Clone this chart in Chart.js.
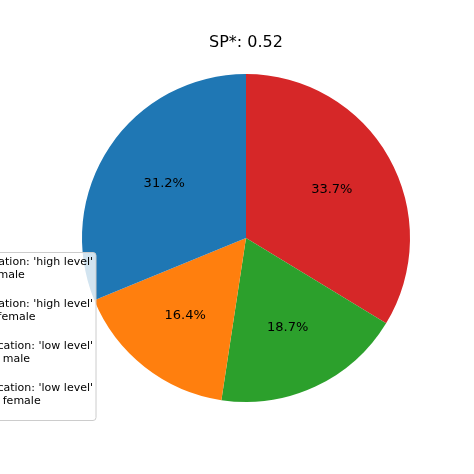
<!DOCTYPE html><html><head><style>html,body{margin:0;padding:0;background:#fff}</style>
<script src="https://cdn.jsdelivr.net/npm/chart.js@4"></script></head><body>
<div style="width:474px;height:474px"><canvas id="c" width="474" height="474"></canvas></div>
<script>
const categories=["education: 'high level'\nsex: male","education: 'high level'\nsex: female","education: 'low level'\nsex: male","education: 'low level'\nsex: female"];
const values=[31.2,16.4,18.7,33.7];
const colors=['#1f77b4','#ff7f0e','#2ca02c','#d62728'];
const titleText='SP*: 0.52';
// reverse order so clockwise drawing matches counter-clockwise reference
const order=[3,2,1,0];
const F='"DejaVu Sans", sans-serif';
const deco={id:'deco',afterDraw(ch){
 const ctx=ch.ctx;ctx.save();
 ctx.fillStyle='#000';ctx.font='16px '+F;ctx.textAlign='center';ctx.textBaseline='middle';
 ctx.fillText(titleText,246,43);
 const meta=ch.getDatasetMeta(0);
 ctx.font='13px '+F;
 meta.data.forEach((a,i)=>{const m=(a.startAngle+a.endAngle)/2;const r=a.outerRadius*0.6;
  ctx.fillText(ch.data.datasets[0].data[i].toFixed(1)+'%',a.x+Math.cos(m)*r,a.y+Math.sin(m)*r);});
 // legend
 ctx.fillStyle='rgba(255,255,255,0.8)';ctx.strokeStyle='#cccccc';ctx.lineWidth=1;
 ctx.beginPath();ctx.roundRect(-20,252.5,116,168,3);ctx.fill();ctx.stroke();
 ctx.font='11px '+F;ctx.textAlign='left';
 categories.forEach((c,i)=>{const [l1,l2]=c.split('\n');const y=262+i*42;
  const w=ctx.measureText(l1).width;const x=93-w;
  ctx.fillStyle=colors[i];ctx.fillRect(x-26,y-3,20,8);
  ctx.fillStyle='#000';ctx.fillText(l1,x,y);ctx.fillText(l2,x,y+13);});
 ctx.restore();}};
new Chart(document.getElementById('c'),{type:'pie',
 data:{labels:order.map(i=>categories[i]),datasets:[{data:order.map(i=>values[i]),backgroundColor:order.map(i=>colors[i]),borderWidth:0}]},
 options:{responsive:false,animation:false,layout:{padding:{left:82,right:64,top:74,bottom:72}},
  plugins:{legend:{display:false},tooltip:{enabled:false},title:{display:false}}},
 plugins:[deco]});
</script></body></html>
